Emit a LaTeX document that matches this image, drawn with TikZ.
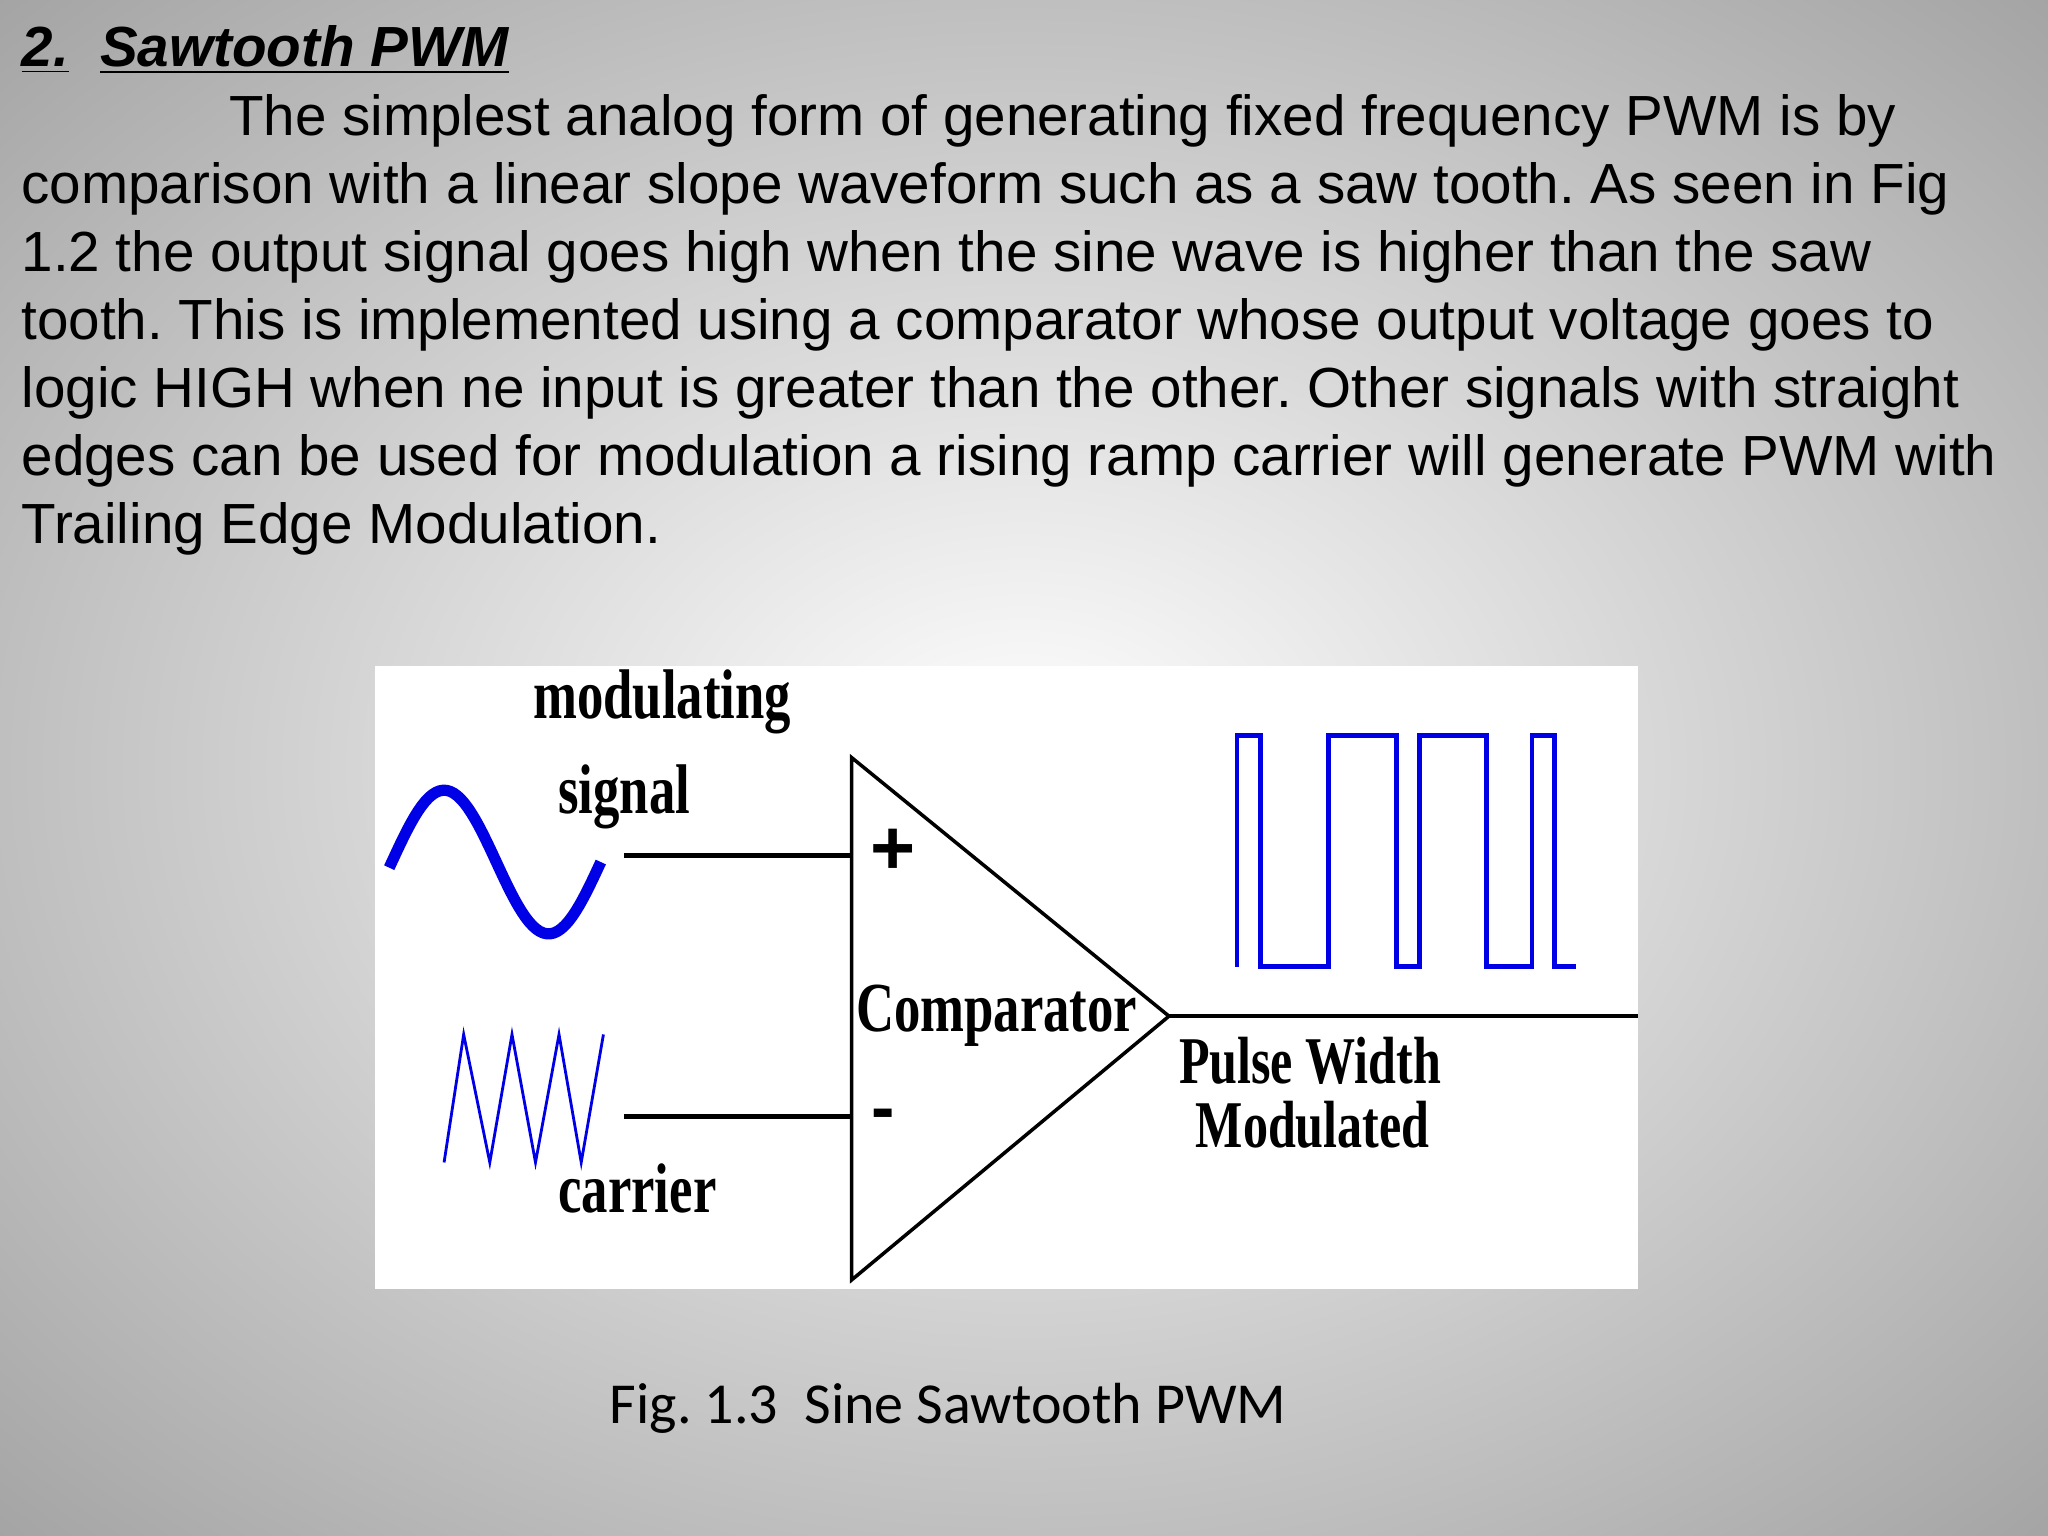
\documentclass[tikz,border=0pt]{standalone}
\usepackage{fontspec}
\setmainfont{Liberation Sans}
\newfontfamily\dserif{Liberation Serif}
\newfontfamily\capfont{Carlito}
\usetikzlibrary{shadings}
\definecolor{wblue}{RGB}{0,0,230}
\frenchspacing
\tikzset{
 body/.style={anchor=base west,inner sep=0,font=\fontsize{16.1}{18}\selectfont},
 dlab/.style={inner sep=0,font=\dserif\bfseries\fontsize{20}{22}\selectfont},
 wire/.style={line width=1.3pt}
}
\newcommand{\dl}[1]{\scalebox{0.75}[1]{#1}}
\begin{document}
\begin{tikzpicture}[x=0.01306cm,y=-0.01306cm]
\useasboundingbox (0,0) rectangle (1568,1176);
\shade[inner color=white,outer color=black!38] (-400,-300) rectangle (1968,1476);
% title
\node[anchor=base west,inner sep=0,font=\bfseries\itshape\fontsize{16.1}{18}\selectfont] (title) at (16,51) {\underline{2.}\ \ \underline{Sawtooth PWM}};
\node[body] (l1) at (175,104) {The simplest analog form of generating fixed frequency PWM is by};
\node[body] (l2) at (16,156) {comparison with a linear slope waveform such as a saw tooth. As seen in Fig};
\node[body] (l3) at (16,208) {1.2 the output signal goes high when the sine wave is higher than the saw};
\node[body] (l4) at (16,260) {tooth. This is implemented using a comparator whose output voltage goes to};
\node[body] (l5) at (16,312) {logic HIGH when ne input is greater than the other. Other signals with straight};
\node[body] (l6) at (16,364) {edges can be used for modulation a rising ramp carrier will generate PWM with};
\node[body] (l7) at (16,416) {Trailing Edge Modulation.};
% diagram
\fill[white] (287,510) rectangle (1254,987);
\coordinate (ta) at (652,580); \coordinate (tb) at (652,980); \coordinate (tc) at (895,778);
\draw[line width=1pt] (ta) -- (tc) -- (tb) -- cycle;
\coordinate (pin) at (478,655); \coordinate (pp) at (652,655);
\coordinate (min) at (478,855); \coordinate (mp) at (652,855);
\coordinate (oend) at (1254,778);
\draw[wire] (pin) -- (pp);
\draw[wire] (min) -- (mp);
\draw[wire] (tc) -- (oend);
\node[inner sep=0,font=\bfseries\fontsize{22}{22}\selectfont] (plus) at (684,652) {+};
\node[inner sep=0,font=\bfseries\fontsize{20}{22}\selectfont] (minus) at (676,858) {-};
\node[dlab] (comp) at (763,778) {\dl{Comparator}};
\node[dlab] (mod) at (507,537) {\dl{modulating}};
\node[dlab] (sig) at (478,610) {\dl{signal}};
\node[dlab] (car) at (488,910) {\dl{carrier}};
\node[dlab,font=\dserif\bfseries\fontsize{19}{20}\selectfont] (pw) at (1003,812) {\dl{Pulse Width}};
\node[dlab,font=\dserif\bfseries\fontsize{19}{20}\selectfont] (pm) at (1005,861) {\dl{Modulated}};
% sine
\draw[wblue,line width=3.2pt,domain=-2:160,samples=60,variable=\t] plot ({300+\t},{660-55*sin(\t*2.25)});
% triangle carrier
\draw[wblue,line width=0.8pt] (340,890)--(355,792)--(375,890)--(392,792)--(410,890)--(428,792)--(445,890)--(462,792);
% square wave
\draw[wblue,line width=1.3pt] (947,740)--(947,563)--(965,563)--(965,740)--(1017,740)--(1017,563)--(1069,563)--(1069,740)--(1087,740)--(1087,563)--(1138,563)--(1138,740)--(1173,740)--(1173,563)--(1190,563)--(1190,740)--(1207,740);
% caption
\node[inner sep=0,font=\capfont\fontsize{16.5}{18}\selectfont] (cap) at (726,1078) {Fig. 1.3\ \ Sine Sawtooth PWM};
\end{tikzpicture}
\end{document}
